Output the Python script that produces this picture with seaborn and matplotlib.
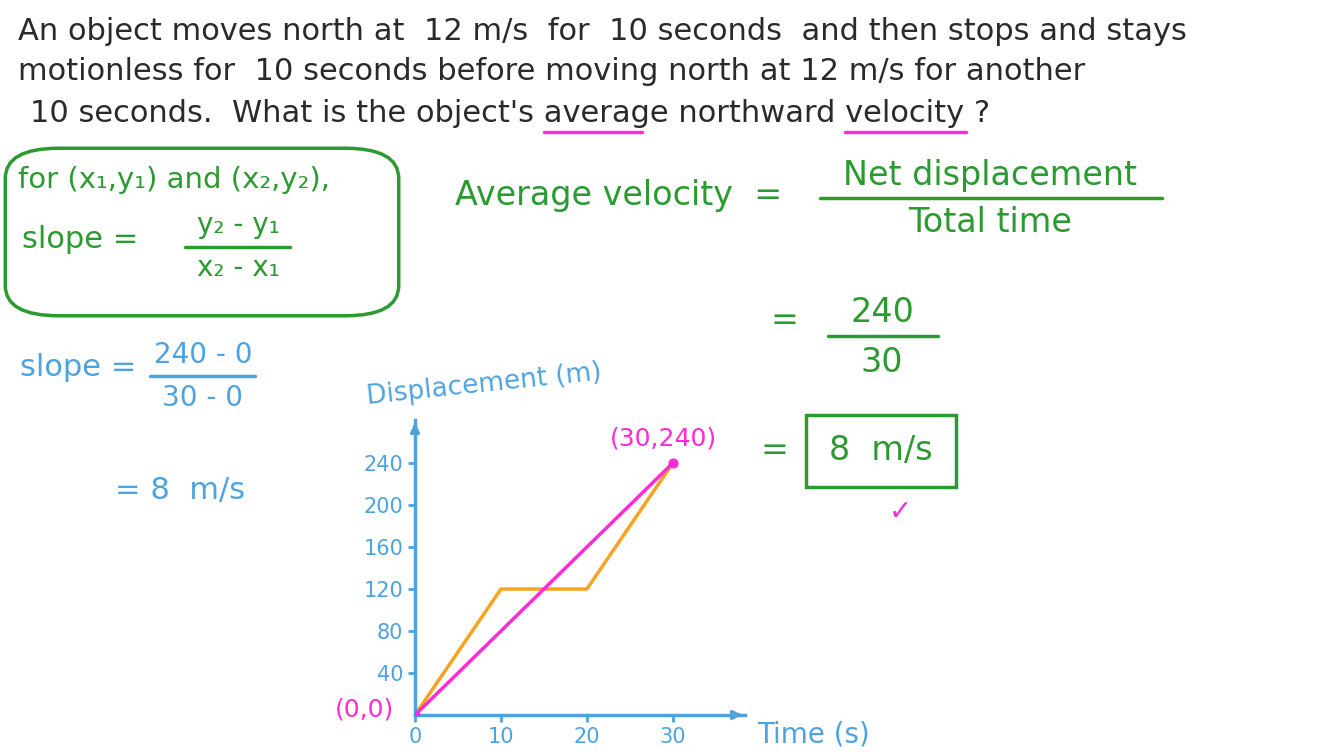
import matplotlib
matplotlib.use("Agg")
import matplotlib.pyplot as plt
import seaborn as sns
import pandas as pd
from matplotlib.patches import FancyBboxPatch, Rectangle

sns.set_theme(style="white")
plt.rcParams['font.family'] = ['DejaVu Sans']

time_s = [0, 10, 20, 30]
disp_m = [0, 120, 120, 240]
avg_time = [0, 30]
avg_disp = [0, 240]
xticks = [0, 10, 20, 30]
yticks = [40, 80, 120, 160, 200, 240]

BLUE = "#4da3e0"; GREEN = "#2b9a30"; MAG = "#ff2bd6"; ORANGE = "#f5a421"; INK = "#2a2a2a"
W, H = 1344, 756
fig = plt.figure(figsize=(13.44, 7.56), dpi=100)
fig.patch.set_facecolor("white")

def t(x, y, s, c=INK, size=22, ha="left", va="center", **kw):
    return fig.text(x / W, 1 - y / H, s, color=c, fontsize=size, ha=ha, va=va, **kw)

def hline(x0, x1, y, c, lw=2.5):
    fig.add_artist(plt.Line2D([x0 / W, x1 / W], [1 - y / H] * 2, color=c, lw=lw))

t(18, 32, "An object moves north at  12 m/s  for  10 seconds  and then stops and stays")
t(18, 72, "motionless for  10 seconds before moving north at 12 m/s for another")
t(30, 113, "10 seconds.  What is the object's average northward velocity ?")
hline(544, 642, 132, MAG)
hline(845, 966, 132, MAG)

# green cloud box
fig.add_artist(FancyBboxPatch((12 / W, 1 - 312 / H), 380 / W, 160 / H,
               boxstyle="round,pad=0.005,rounding_size=0.04", transform=fig.transFigure,
               fill=False, ec=GREEN, lw=2.5))
t(18, 180, "for (x₁,y₁) and (x₂,y₂),", GREEN, 21)
t(22, 240, "slope =", GREEN, 22)
t(238, 225, "y₂ - y₁", GREEN, 20, ha="center")
t(238, 268, "x₂ - x₁", GREEN, 20, ha="center")
hline(185, 290, 247, GREEN)

t(455, 195, "Average velocity  =", GREEN, 24)
t(990, 175, "Net displacement", GREEN, 24, ha="center")
t(990, 222, "Total time", GREEN, 24, ha="center")
hline(820, 1162, 198, GREEN)

t(770, 320, "=", GREEN, 24)
t(882, 312, "240", GREEN, 24, ha="center")
t(882, 362, "30", GREEN, 24, ha="center")
hline(828, 938, 336, GREEN)

t(760, 450, "=", GREEN, 24)
fig.add_artist(Rectangle((806 / W, 1 - 487 / H), 150 / W, 72 / H, transform=fig.transFigure,
                         fill=False, ec=GREEN, lw=2.5))
t(881, 451, "8  m/s", GREEN, 24, ha="center")
t(900, 512, "✓", MAG, 20, ha="center")

t(20, 367, "slope =", BLUE, 22)
t(203, 355, "240 - 0", BLUE, 20, ha="center")
t(203, 398, "30 - 0", BLUE, 20, ha="center")
hline(150, 255, 376, BLUE)
t(115, 490, "= 8  m/s", BLUE, 22)

t(365, 385, "Displacement (m)", BLUE, 19, rotation=6)
t(757, 735, "Time (s)", BLUE, 20)
t(335, 710, "(0,0)", MAG, 18)
t(610, 438, "(30,240)", MAG, 18)

# chart
ax = fig.add_axes([415 / W, 41 / H, 330 / W, 295 / H])
df = pd.DataFrame({"t": time_s, "d": disp_m})
sns.lineplot(data=df, x="t", y="d", ax=ax, color=ORANGE, lw=2.5)
sns.lineplot(x=avg_time, y=avg_disp, ax=ax, color=MAG, lw=2.5)
ax.scatter([avg_time[0], avg_time[-1]], [avg_disp[0], avg_disp[-1]], color=MAG, s=40, zorder=5)
ax.set_xlim(0, 38.4)
ax.set_ylim(0, 281)
for s in ["top", "right"]:
    ax.spines[s].set_visible(False)
for s in ["left", "bottom"]:
    ax.spines[s].set_color(BLUE); ax.spines[s].set_linewidth(2.5)
ax.annotate("", xy=(1.0, 0), xycoords="axes fraction", xytext=(0.97, 0),
            arrowprops=dict(arrowstyle="-|>", color=BLUE, lw=2.5))
ax.annotate("", xy=(0, 1.0), xycoords="axes fraction", xytext=(0, 0.96),
            arrowprops=dict(arrowstyle="-|>", color=BLUE, lw=2.5))
ax.set_xticks(xticks)
ax.set_yticks(yticks)
ax.tick_params(colors=BLUE, labelsize=15, length=5, width=2, left=True, bottom=True)
ax.set_xlabel(""); ax.set_ylabel("")
ax.patch.set_alpha(0)

fig.savefig("out.png", dpi=100, facecolor="white")
